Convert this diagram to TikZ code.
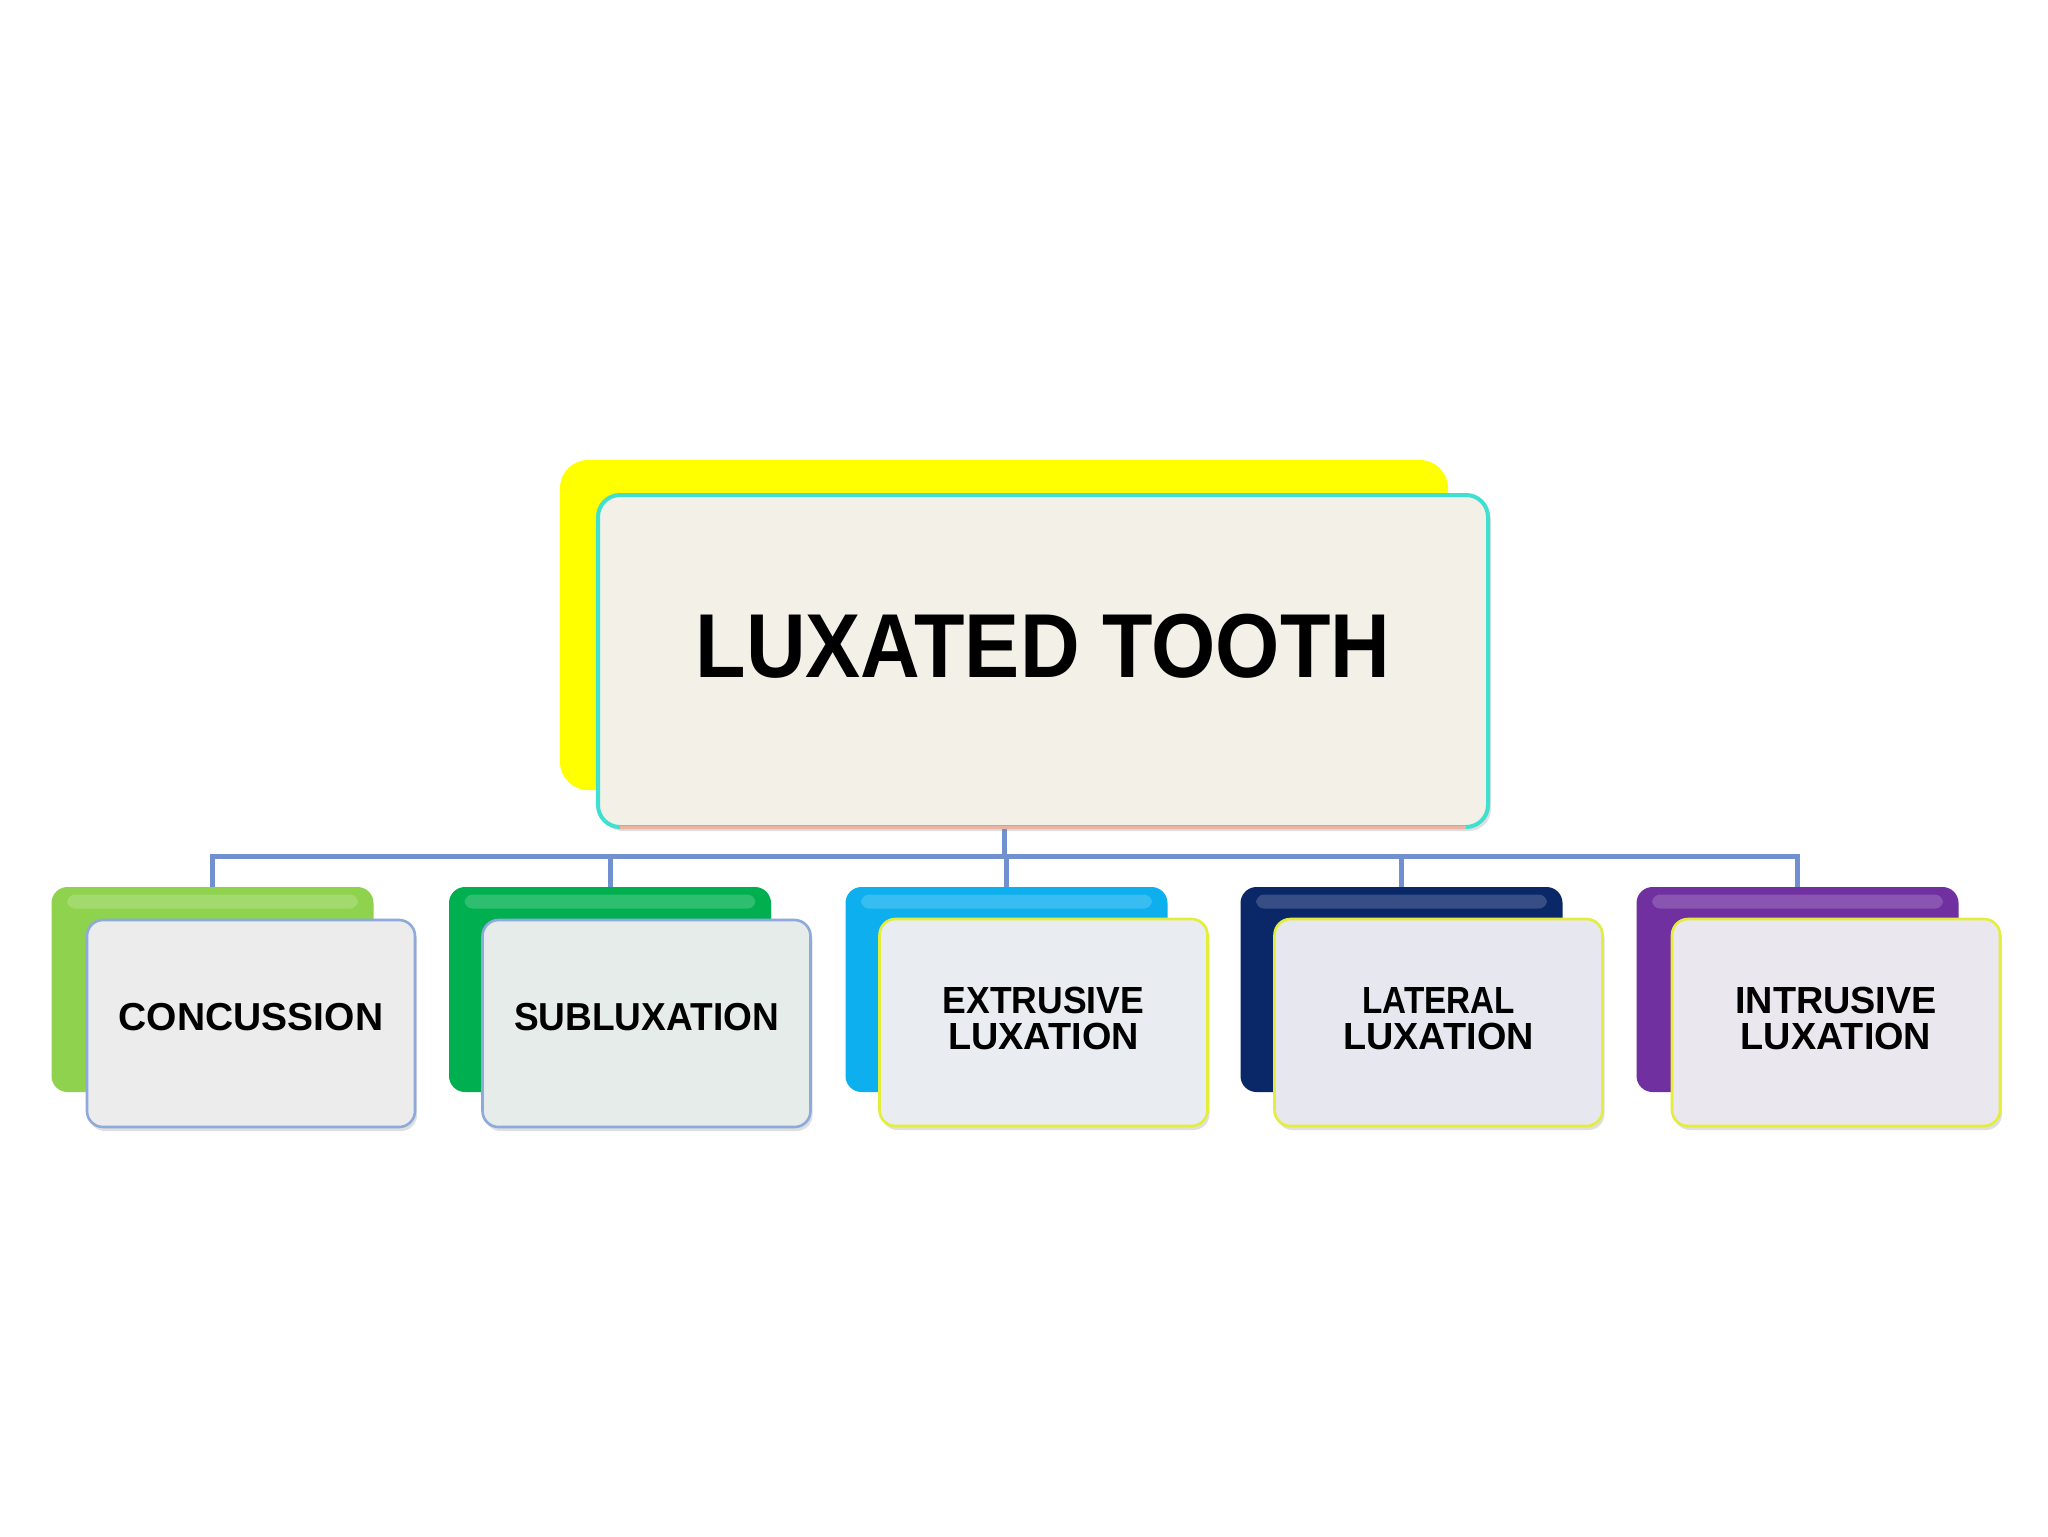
\documentclass[tikz,border=0pt]{standalone}
\usepackage{fontspec}
\setmainfont{Liberation Sans}
\usetikzlibrary{shadows}
\definecolor{conncol}{HTML}{7090D0}
\definecolor{topfill}{HTML}{F2F0E7}
\definecolor{topedge}{HTML}{40E0D0}
\definecolor{salmon}{HTML}{E8B4A4}
\definecolor{cyellow}{HTML}{FFFF00}
\definecolor{cgreenl}{HTML}{8ED24E}
\definecolor{cgreen}{HTML}{00B050}
\definecolor{cblue}{HTML}{0DAFEE}
\definecolor{cnavy}{HTML}{0A2868}
\definecolor{cpurple}{HTML}{7030A0}
\definecolor{edgeblue}{HTML}{8EA9DB}
\definecolor{edgelime}{HTML}{E4EE3A}
\definecolor{ffa}{HTML}{ECECEC}
\definecolor{ffb}{HTML}{E6ECEA}
\definecolor{ffc}{HTML}{E9ECF0}
\definecolor{ffd}{HTML}{E7E7EF}
\definecolor{ffe}{HTML}{EAE7EE}
\tikzset{
  conn/.style={draw=conncol, line width=2.5pt, line join=miter},
  topback/.style={fill=cyellow, rounded corners=14pt, minimum width=444pt, minimum height=165pt, inner sep=0pt},
  topfront/.style={fill=topfill, draw=topedge, line width=2pt, rounded corners=11pt,
    minimum width=445pt, minimum height=166pt, inner sep=0pt,
    drop shadow={shadow xshift=1.5pt, shadow yshift=-2pt, opacity=0.25}},
  backbox/.style={fill=#1, rounded corners=8pt, minimum width=161pt, minimum height=102.5pt, inner sep=0pt},
  frontbox/.style={fill=#1, rounded corners=8pt, line width=1.3pt,
    minimum width=164pt, minimum height=103.5pt, inner sep=0pt, align=center,
    drop shadow={shadow xshift=1pt, shadow yshift=-2pt, opacity=0.25}},
  onelab/.style={font=\fontsize{19.5pt}{20pt}\selectfont\bfseries, text depth=6.5pt},
  twolab/.style={font=\fontsize{18.9pt}{18pt}\selectfont\bfseries, text depth=4pt},
  gloss/.style={fill=white, opacity=0.18, rounded corners=4pt}
}
\begin{document}
\begin{tikzpicture}[x=0.5pt, y=-0.5pt]
\useasboundingbox[fill=white] (0,0) rectangle (2048,1536);

% back boxes
\node[topback] (tback) at (1004,625) {};
\node[backbox=cgreenl] (b1) at (212.5,989.5) {};
\node[backbox=cgreen] (b2) at (610,989.5) {};
\node[backbox=cblue] (b3) at (1006.5,989.5) {};
\node[backbox=cnavy] (b4) at (1401.5,989.5) {};
\node[backbox=cpurple] (b5) at (1797.5,989.5) {};
\foreach \n in {b1,b2,b3,b4,b5}{
  \fill[gloss] ([xshift=8pt,yshift=-4pt]\n.north west) rectangle ([xshift=-8pt,yshift=-11pt]\n.north east);
}

% connectors
\coordinate (bus) at (1005,856);
\draw[conn] (tback.south) -- (tback.south |- bus);
\draw[conn] (b1.north) -- (b1.north |- bus) -- (b5.north |- bus) -- (b5.north);
\foreach \n in {b2,b3,b4}{
  \draw[conn] (\n.north |- bus) -- (\n.north);
}

% front boxes
\node[topfront, font=\fontsize{45.4pt}{50pt}\selectfont\bfseries, text depth=15pt] (tfront) at (1043,661)
  {\scalebox{0.91}[1]{LUXATED TOOTH}};
\draw[salmon, line width=1.5pt] ([xshift=12pt,yshift=1pt]tfront.south west) -- ([xshift=-12pt,yshift=1pt]tfront.south east);

\node[frontbox=ffa, draw=edgeblue, onelab] (f1) at (251,1023.5) {CONCUSSION};
\node[frontbox=ffb, draw=edgeblue, onelab] (f2) at (646.5,1023.5) {\scalebox{0.95}[1]{SUBLUXATION}};
\node[frontbox=ffc, draw=edgelime, twolab] (f3) at (1043.5,1022.5) {\scalebox{0.94}[1]{EXTRUSIVE}\\LUXATION};
\node[frontbox=ffd, draw=edgelime, twolab] (f4) at (1438.5,1022.5) {\scalebox{0.88}[1]{LATERAL}\\LUXATION};
\node[frontbox=ffe, draw=edgelime, twolab] (f5) at (1836,1022.5) {INTRUSIVE\\LUXATION};
\end{tikzpicture}
\end{document}
